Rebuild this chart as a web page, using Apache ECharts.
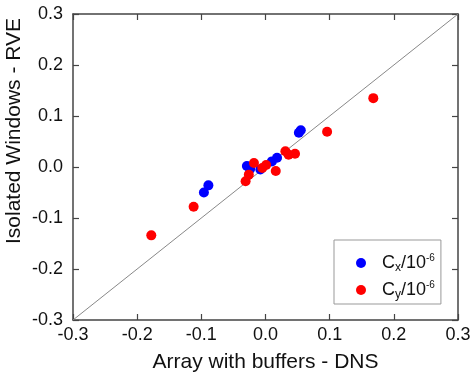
<!DOCTYPE html>
<html>
<head>
<meta charset="utf-8">
<script src="https://cdn.jsdelivr.net/npm/echarts@6/dist/echarts.min.js"></script>
<style>html,body{margin:0;padding:0;background:#fff}#c{width:474px;height:378px}</style>
</head>
<body>
<div id="c"></div>
<script>
const axisTicks = [-0.3, -0.2, -0.1, 0.0, 0.1, 0.2, 0.3];
const xAxisTitle = 'Array with buffers - DNS';
const yAxisTitle = 'Isolated Windows - RVE';
const seriesNames = ['Cx', 'Cy'];
const cxPoints = [
  [0.052, 0.067], [0.055, 0.072],
  [0.018, 0.018], [0.010, 0.011],
  [-0.008, -0.005], [-0.029, 0.002], [-0.024, -0.004],
  [-0.089, -0.036], [-0.096, -0.050]
];
const cyPoints = [
  [0.168, 0.135], [0.096, 0.069],
  [0.031, 0.031], [0.036, 0.024], [0.046, 0.026],
  [-0.018, 0.008], [-0.005, -0.002], [0.001, 0.004],
  [0.016, -0.008], [-0.026, -0.015], [-0.031, -0.028],
  [-0.112, -0.078], [-0.178, -0.134]
];
const identityLine = [[-0.3, -0.3], [0.3, 0.3]];

const FONT = 'Liberation Sans, Arial, sans-serif';
const axisColor = '#444';
const fmt = v => (Math.abs(v) < 1e-9 ? 0 : v).toFixed(1);

const baseAxis = {
  type: 'value', min: axisTicks[0], max: axisTicks[axisTicks.length - 1], interval: 0.1,
  splitLine: { show: false },
  axisLine: { show: true, onZero: false, lineStyle: { color: axisColor, width: 1.5 } },
  axisTick: { show: true, inside: true, length: 6, lineStyle: { color: axisColor, width: 1.2 } }
};

const chart = echarts.init(document.getElementById('c'));
chart.setOption({
  animation: false,
  backgroundColor: '#fff',
  grid: { left: 73, right: 16, top: 14, bottom: 57 },
  xAxis: [
    Object.assign({}, baseAxis, {
      position: 'bottom',
      axisLabel: { formatter: fmt, fontSize: 18, color: '#111', fontFamily: FONT, margin: 6 },
      name: xAxisTitle, nameLocation: 'middle', nameGap: 32,
      nameTextStyle: { fontSize: 21, color: '#111', fontFamily: FONT }
    }),
    Object.assign({}, baseAxis, { position: 'top', axisLabel: { show: false } })
  ],
  yAxis: [
    Object.assign({}, baseAxis, {
      position: 'left',
      axisLabel: { formatter: fmt, fontSize: 18, color: '#111', fontFamily: FONT, margin: 10 }
    }),
    Object.assign({}, baseAxis, { position: 'right', axisLabel: { show: false } })
  ],
  graphic: [{
    type: 'text', x: 14, y: 131, rotation: Math.PI / 2,
    style: { text: yAxisTitle, fontSize: 21, fill: '#111', fontFamily: FONT, align: 'center', verticalAlign: 'middle' }
  }],
  legend: {
    data: seriesNames,
    orient: 'vertical', left: 334, top: 240,
    padding: [13, 6, 3, 22],
    itemGap: 6,
    itemWidth: 10, itemHeight: 10,
    icon: 'circle',
    borderColor: '#999', borderWidth: 1, backgroundColor: '#fff',
    formatter: n => '{g|}{m|C}{s|' + n.slice(1) + '}{m|/10}{p|-6}',
    textStyle: {
      fontFamily: FONT, color: '#111',
      rich: {
        g: { width: 11 },
        m: { fontSize: 18, fontFamily: FONT, color: '#111' },
        s: { fontSize: 12, fontFamily: FONT, color: '#111', padding: [10, 0, 0, 0] },
        p: { fontSize: 10, fontFamily: FONT, color: '#111', padding: [0, 0, 10, 0] }
      }
    }
  },
  series: [
    {
      type: 'line', data: identityLine, symbol: 'none', silent: true,
      lineStyle: { color: '#888', width: 1 }, z: 1
    },
    {
      name: seriesNames[0], type: 'scatter', data: cxPoints, symbolSize: 10,
      itemStyle: { color: '#0000ff', opacity: 1 }, z: 3
    },
    {
      name: seriesNames[1], type: 'scatter', data: cyPoints, symbolSize: 10,
      itemStyle: { color: '#ff0000', opacity: 1 }, z: 4
    }
  ]
});
</script>
</body>
</html>
